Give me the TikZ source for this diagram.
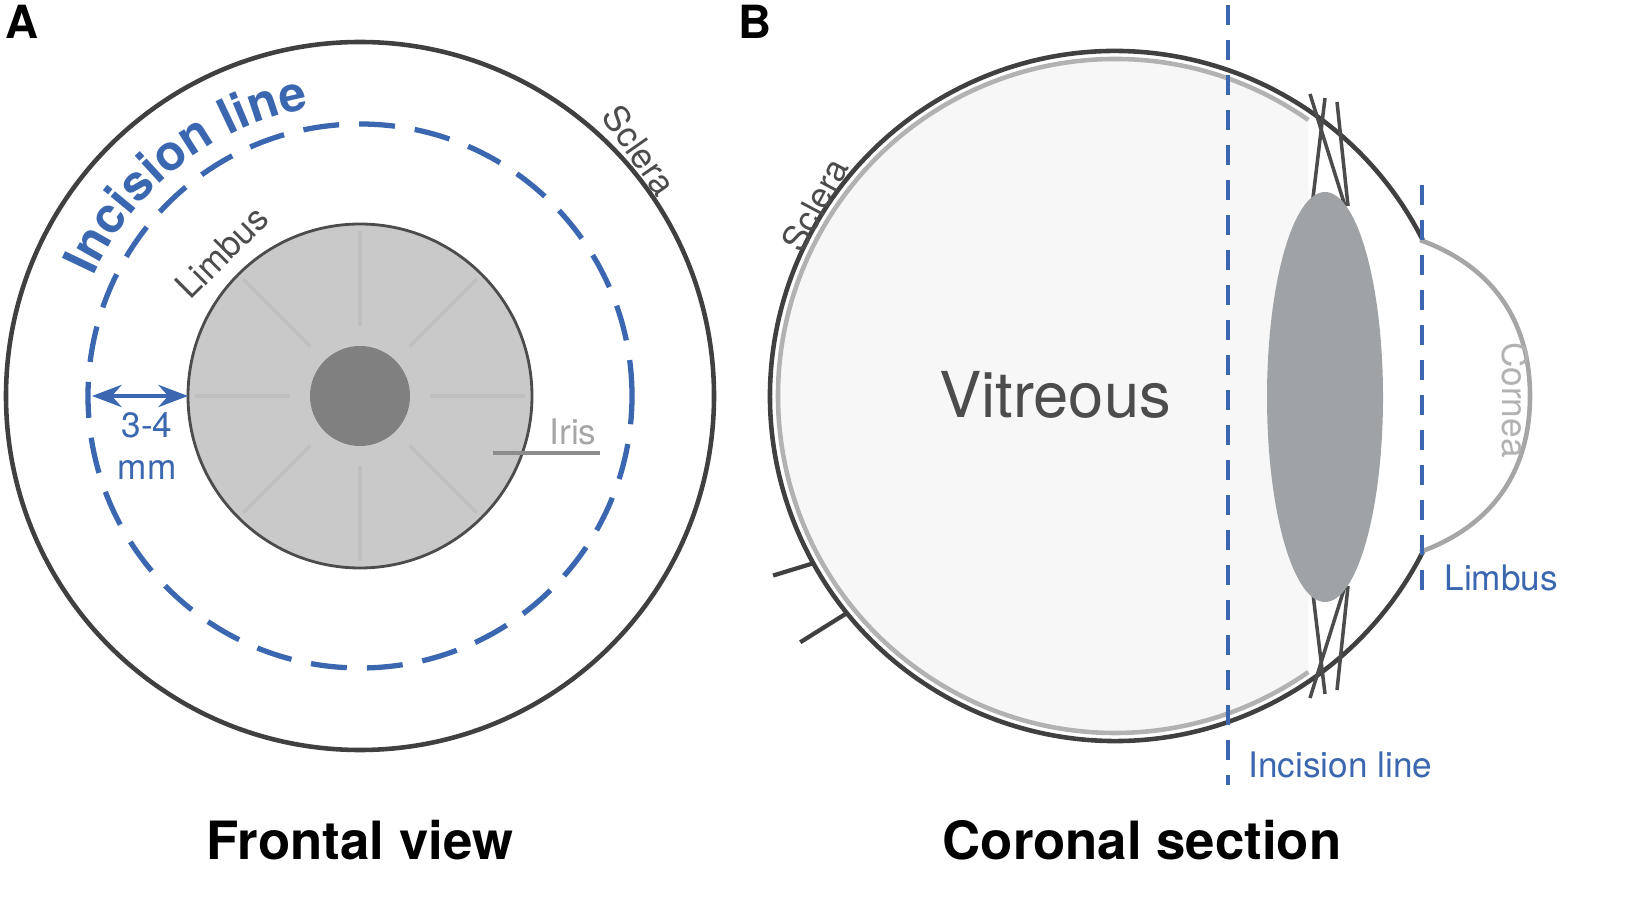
\documentclass[tikz,border=0pt]{standalone}
\usepackage{fontspec}
\setmainfont{TeX Gyre Heros}
\usetikzlibrary{arrows.meta,decorations.text,calc}
\definecolor{cutblue}{HTML}{3A67B0}
\definecolor{lensgray}{HTML}{A0A3A6}
\tikzset{
    % Colors and lines
    outline/.style={draw=black!75,line width=1.3pt},
    cut line/.style={cutblue,line width=1.5pt,dash pattern=on 0.36cm off 0.2cm},
    thin cut/.style={cutblue,line width=1.3pt,dash pattern=on 0.2cm off 0.15cm},
    spoke/.style={black!25,line width=1pt},
    %
    % Labels
    label text/.style={font=\fontsize{10}{12}\selectfont,text=black!70},
    blue label/.style={font=\fontsize{10}{12}\selectfont,text=cutblue},
    panel letter/.style={font=\bfseries\fontsize{13}{15}\selectfont},
    caption/.style={font=\bfseries\fontsize{15}{18}\selectfont},
    %
    % Arrows
    arrow tip/.tip={Stealth},
    distance marker/.style={<->,>={arrow tip},cutblue,line width=1.2pt}
}
\begin{document}
\begin{tikzpicture}[x=0.01cm,y=0.01cm]
    \useasboundingbox (0,0) rectangle (1652,909);
    % Frontal view
    \coordinate (A) at (360,513);
    \draw[outline] (A) circle (354);
    \draw[cut line] (A) circle (272);
    \draw[draw=black!70,line width=0.8pt,fill=black!21] (A) circle (172);
    \foreach \a in {0,45,...,315}
        \draw[spoke] ($(A)+(\a:70)$) -- ($(A)+(\a:165)$);
    \fill[black!50] (A) circle (50);
    \coordinate (iris a) at (493,456);
    \coordinate (iris b) at (600,456);
    \draw[black!45,line width=1pt] (iris a) -- (iris b);
    \node[label text,text=black!35] (iris) at (573,477) {Iris};
    \node[label text,rotate=45] (limbusA) at (222,657) {Limbus};
    \node[label text,rotate=-55] (scleraA) at (640,759) {Sclera};
    \coordinate (mm a) at (92,513);
    \coordinate (mm b) at (188,513);
    \draw[distance marker] (mm a) -- (mm b);
    \node[blue label,align=center] (mm) at (147,463) {3-4\\mm};
    \path[decorate,decoration={text along path,text align=center,
        text={|\bfseries\fontsize{14}{17}\selectfont\color{cutblue}|Incision line}}]
        ($(A)+(163:292)$) arc (163:93:292);
    \node[panel letter] (letterA) at (22,887) {A};
    \node[caption] (frontal) at (360,69) {Frontal view};
    %
    % Coronal section
    \coordinate (B) at (1115,513);
    \fill[black!3] ($(B)+(55:337)$) arc (55:305:337) -- cycle;
    \draw[black!30,line width=1.3pt] ($(B)+(55:337)$) arc (55:305:337);
    \draw[outline] ($(B)+(26.5:345)$) arc (26.5:333.5:345);
    \draw[black!35,line width=1.3pt] (1420,669) .. controls (1500,640) and (1530,580) .. (1530,513)
        .. controls (1530,446) and (1500,386) .. (1420,357);
    \foreach \s in {1,-1} {
        \draw[black!70,line width=1pt] (1310,{513+\s*302}) -- (1345,{513+\s*190});
        \draw[black!70,line width=1pt] (1325,{513+\s*298}) -- (1312,{513+\s*190});
        \draw[black!70,line width=1pt] (1337,{513+\s*294}) -- (1348,{513+\s*190});
    }
    \fill[lensgray] (1325,512) ellipse (58 and 205);
    \draw[black!75,line width=1.2pt] ($(B)+(209:345)$) -- +(197:42);
    \draw[black!75,line width=1.2pt] ($(B)+(219:345)$) -- +(212:55);
    \coordinate (cut top) at (1228,904);
    \coordinate (cut bot) at (1228,124);
    \coordinate (limb top) at (1422,724);
    \coordinate (limb bot) at (1422,309);
    \draw[thin cut] (cut top) -- (cut bot);
    \draw[thin cut] (limb top) -- (limb bot);
    \node[blue label,anchor=west] (limbusB) at (1432,331) {Limbus};
    \node[blue label,anchor=west] (incision) at (1236,144) {Incision line};
    \node[label text,text=black!30,rotate=-90] (cornea) at (1515,509) {Cornea};
    \node[label text,rotate=62] (scleraB) at (815,704) {Sclera};
    \node[font=\fontsize{18}{21}\selectfont,text=black!70] (vitreous) at (1055,514) {Vitreous};
    \node[panel letter] (letterB) at (755,887) {B};
    \node[caption] (coronal) at (1142,69) {Coronal section};
\end{tikzpicture}
\end{document}
